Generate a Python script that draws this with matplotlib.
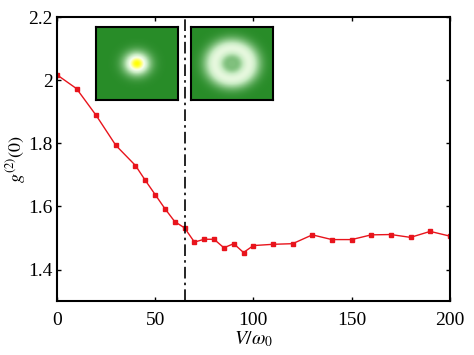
import numpy as np
import matplotlib
matplotlib.use("Agg")
from matplotlib import pyplot as plt
from matplotlib.colors import LinearSegmentedColormap
from matplotlib.ticker import FuncFormatter

# data
V = [0, 10, 20, 30, 40, 45, 50, 55, 60, 65, 70, 75, 80, 85, 90, 95,
     100, 110, 120, 130, 140, 150, 160, 170, 180, 190, 200]
g2 = [2.018, 1.974, 1.889, 1.794, 1.730, 1.683, 1.638, 1.593, 1.552, 1.532,
      1.487, 1.496, 1.496, 1.469, 1.482, 1.454, 1.476, 1.480, 1.482, 1.510,
      1.495, 1.495, 1.510, 1.511, 1.502, 1.521, 1.506]
V_crit = 65
xticks = [0, 50, 100, 150, 200]
yticks = [1.4, 1.6, 1.8, 2.0, 2.2]

plt.rcParams['font.family'] = ['Liberation Serif', 'DejaVu Serif']
plt.rcParams['mathtext.fontset'] = 'stix'

fig = plt.figure(figsize=(4.74, 3.55), dpi=100)
ax = fig.add_axes([0.120, 0.152, 0.829, 0.799])

ax.plot(V, g2, color='#e8141c', lw=1.0, marker='s', ms=2.4, mec='#e8141c')
ax.axvline(V_crit, color='k', ls='-.', lw=1.2, dashes=(7, 2.5, 1.5, 2.5))

ax.set_xlim(0, 200)
ax.set_ylim(1.3, 2.2)
ax.set_xticks(xticks)
ax.set_yticks(yticks)
ax.yaxis.set_major_formatter(FuncFormatter(lambda v, p: ('%g' % round(v, 2))))
ax.tick_params(direction='in', length=3, width=1, labelsize=14,
               top=True, right=True)
ax.tick_params(axis='y', pad=3)
ax.tick_params(axis='x', pad=8)
for s in ax.spines.values():
    s.set_linewidth(1.5)

ax.set_xlabel(r'$V/\omega_0$', fontsize=14, labelpad=0)
ax.set_ylabel(r'$g^{(2)}(0)$', fontsize=13, labelpad=0)

# the two density snapshots
cmap = LinearSegmentedColormap.from_list('spot', [
    (0.0, (0.16, 0.55, 0.16)),
    (0.5, (0.78, 0.92, 0.76)),
    (0.72, (0.97, 1.0, 0.93)),
    (0.85, (1.0, 1.0, 0.55)),
    (1.0, (1.0, 1.0, 0.0))])
yy, xx = np.mgrid[-1:1:120j, -1:1:120j]
r = np.hypot(xx, yy)
img1 = np.exp(-(r / 0.3) ** 2)
img2 = 0.64 * np.exp(-((r - 0.42) / 0.28) ** 2) + 0.2 * np.exp(-(r / 0.12) ** 2)

for x0, img in [(0.2025, img1), (0.403, img2)]:
    ins = fig.add_axes([x0, 0.718, 0.1725, 0.205])
    ins.imshow(img, cmap=cmap, vmin=0, vmax=1, aspect='auto',
               interpolation='bilinear')
    ins.set_xticks([])
    ins.set_yticks([])
    for s in ins.spines.values():
        s.set_linewidth(1.5)

fig.savefig('out.png', dpi=100)
